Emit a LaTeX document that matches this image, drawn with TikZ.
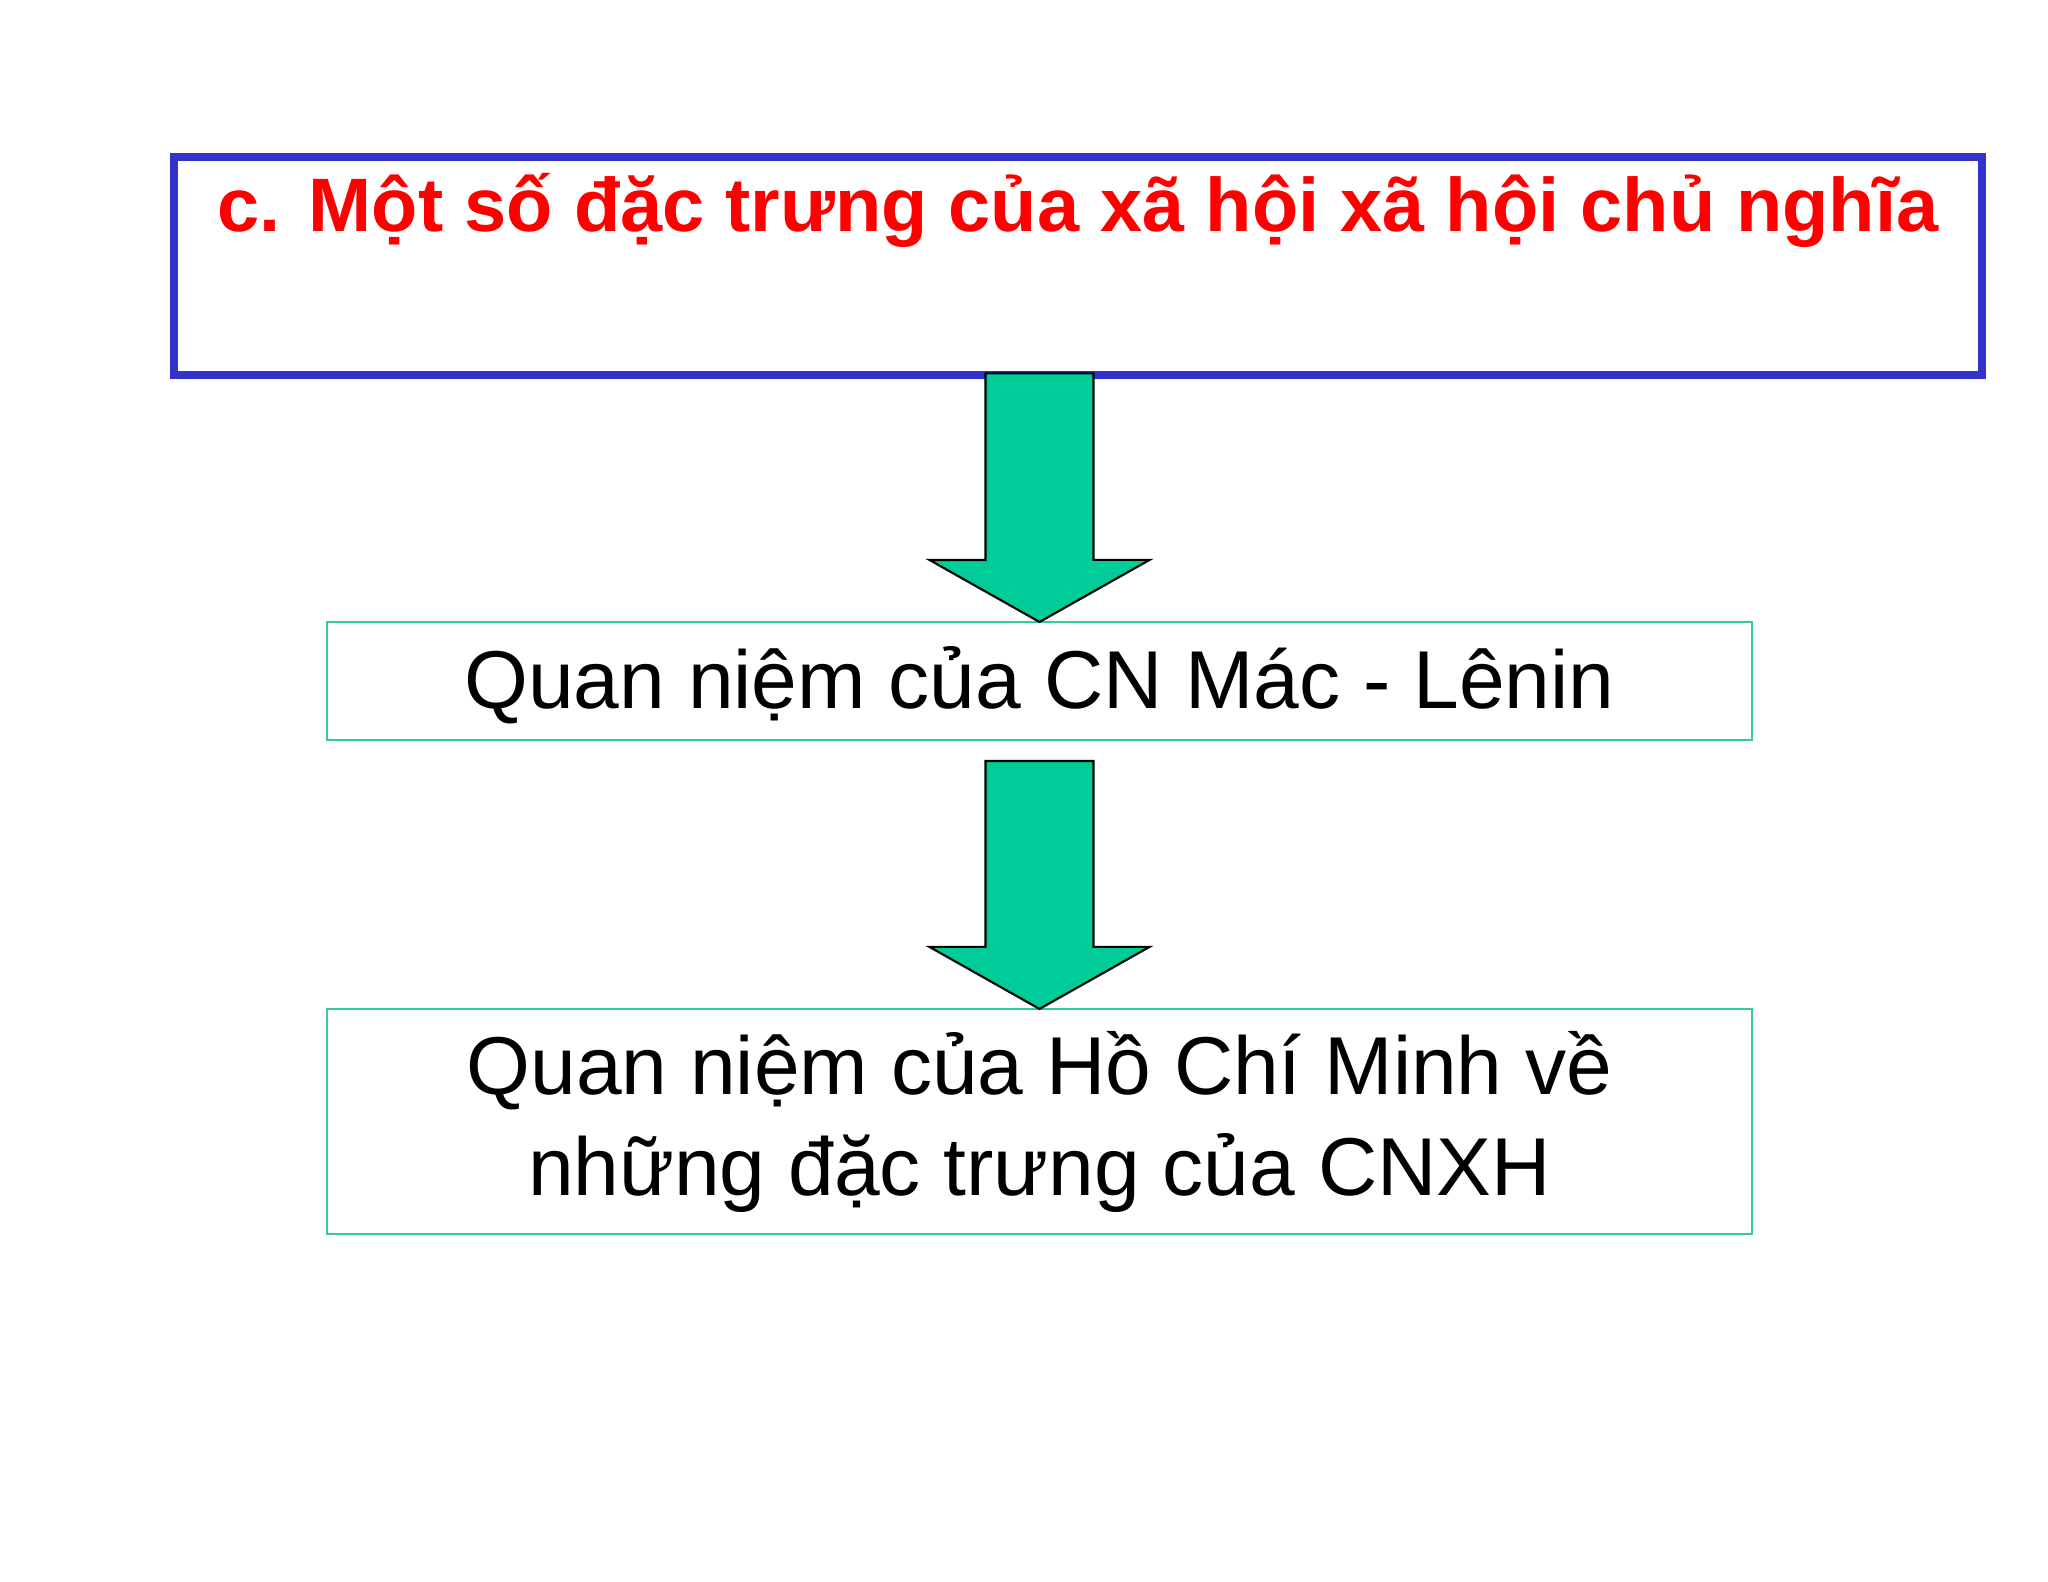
\documentclass[tikz,border=0pt]{standalone}
\usepackage{fontspec}
\setmainfont{Liberation Sans}
\usepackage{xcolor}
\usetikzlibrary{calc}

\definecolor{khungxanh}{HTML}{3333CC}
\definecolor{vienluc}{HTML}{33CC99}
\definecolor{muiten}{HTML}{00CC99}

\tikzset{
  tieude/.style={draw=khungxanh, line width=0.08cm, inner sep=0pt, outer sep=0pt,
    minimum width=18.06cm, text height=0.75cm, text depth=1.435cm,
    text=red, font=\fontsize{21.55}{26}\selectfont\bfseries},
  hop/.style={draw=vienluc, line width=0.02cm, inner sep=0pt, outer sep=0pt,
    minimum width=14.25cm, align=center,
    font=\fontsize{23.35}{28.7}\selectfont},
  bigarrow/.style={draw=black, line width=0.6pt, fill=muiten, line join=miter}
}

% mui ten khoi: tu hop #1 xuong hop #2, khoang cach #3
\newcommand{\blockarrow}[3]{%
  \coordinate (tail) at (#1.south -| #2.north);
  \draw[bigarrow] (#2.north) -- ++(-110,-62) -- ++(56,0)
    -- ([xshift=-0.54cm,yshift=-#3]tail) -- ([xshift=0.54cm,yshift=-#3]tail)
    -- ([xshift=0.54cm,yshift=0.62cm]#2.north) -- ++(56,0) -- cycle;}

\begin{document}
\begin{tikzpicture}[x=0.01cm, y=-0.01cm]
  \fill[white] (0,0) rectangle (2048,1582);
  \useasboundingbox (0,0) rectangle (2048,1582);

  %% Cac hop
  \node[tieude] (dactrung) at (1078,266) {c. Một số đặc trưng của xã hội xã hội chủ nghĩa};

  \node[hop, text height=0.86cm, text depth=0.32cm] (macle) at (1039.5,681)
    {Quan niệm của CN Mác - Lênin};

  \node[hop, minimum height=2.25cm] (hcm) at (1039.5,1121.5)
    {Quan niệm của Hồ Chí Minh về\\những đặc trưng của CNXH};

  %% Mui ten
  \blockarrow{dactrung}{macle}{-0.02cm}
  \blockarrow{macle}{hcm}{0.21cm}
\end{tikzpicture}
\end{document}
